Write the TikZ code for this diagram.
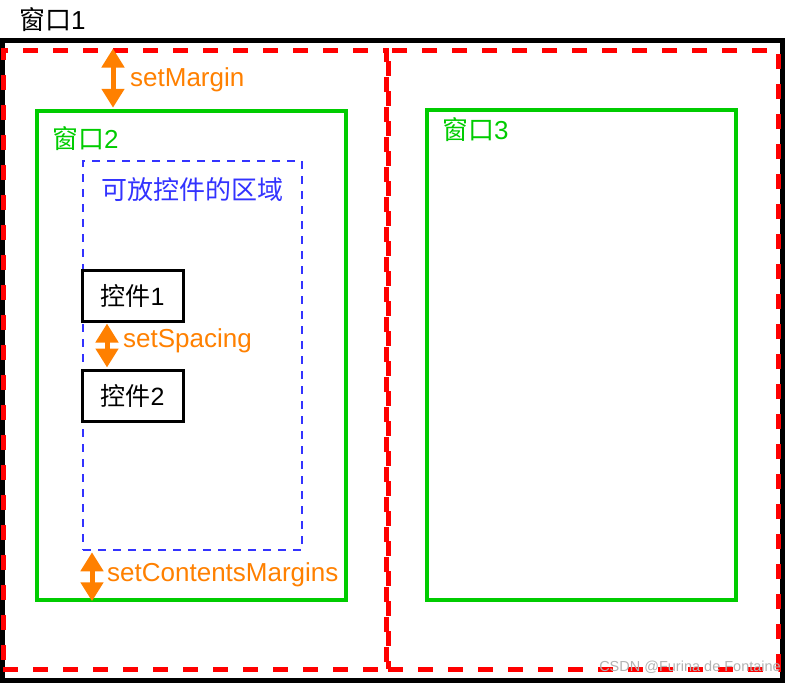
\documentclass[tikz,border=0pt]{standalone}
\usepackage{fontspec}
\setmainfont{Liberation Sans}
\newfontfamily\cjk{Noto Sans CJK SC}
\usetikzlibrary{arrows.meta}
\definecolor{wgreen}{RGB}{0,204,0}
\definecolor{wblue}{RGB}{51,51,255}
\definecolor{worange}{RGB}{255,128,0}
\tikzset{
  box/.style={draw, rectangle, inner sep=0pt},
  blackframe/.style={box, line width=5pt},
  redframe/.style={box, draw=red, line width=5pt, dash pattern=on 15pt off 15pt},
  greenframe/.style={box, draw=wgreen, line width=4.5pt},
  blueframe/.style={box, draw=wblue, line width=2.5pt, dash pattern=on 8pt off 7pt},
  widget/.style={box, line width=3pt, font=\fontsize{25}{29}\selectfont},
  lbl/.style={anchor=west, inner sep=0pt, font=\fontsize{26}{30}\selectfont},
  arr/.style={draw=worange, line width=5pt, {Triangle[length=19pt,width=22pt]}-{Triangle[length=19pt,width=22pt]}, shorten <=1pt, shorten >=1pt}
}
\begin{document}
\begin{tikzpicture}[x=1pt,y=-1pt]
\useasboundingbox (0,0) rectangle (785,683);
\node[blackframe, minimum width=780pt, minimum height=640pt] (win1) at (392,360) {};
\node[redframe, minimum width=383pt, minimum height=619pt] (redL) at (194.5,359.5) {};
\node[redframe, minimum width=390pt, minimum height=619pt] (redR) at (583,359.5) {};
\node[greenframe, minimum width=309pt, minimum height=489pt] (win2) at (191.5,355.5) {};
\node[greenframe, minimum width=309pt, minimum height=490pt] (win3) at (581.5,355) {};
\node[blueframe, minimum width=219pt, minimum height=389pt] (area) at (192.5,355.5) {};
\node[widget, minimum width=101pt, minimum height=51pt] (w1) at (132.5,295.5) {{\cjk 控件}1};
\node[widget, minimum width=101pt, minimum height=51pt] (w2) at (132.5,395.5) {{\cjk 控件}2};

\node[lbl] (t1) at (19,20) {{\cjk 窗口}1};
\node[lbl, text=wgreen] (t2) at (52,139) {{\cjk 窗口}2};
\node[lbl, text=wgreen] (t3) at (442,130) {{\cjk 窗口}3};
\node[lbl, text=wblue] (ta) at (101,190) {\cjk 可放控件的区域};

\coordinate (mx) at (113,0);
\coordinate (sx) at (107,0);
\coordinate (cx) at (92,0);
\draw[arr] (mx |- redL.north) -- (mx |- win2.north);
\draw[arr] (sx |- w1.south) -- (sx |- w2.north);
\draw[arr] (cx |- area.south) -- (cx |- win2.south);

\node[lbl, text=worange] (lm) at (130,80) {setMargin};
\node[lbl, text=worange] (ls) at (123,341) {setSpacing};
\node[lbl, text=worange] (lc) at (107,575) {setContentsMargins};

\node[anchor=east, inner sep=0pt, text=black!30, font=\fontsize{14.5}{17}\selectfont] (wm) at (781,667) {CSDN @Furina de Fontaine};
\end{tikzpicture}
\end{document}
